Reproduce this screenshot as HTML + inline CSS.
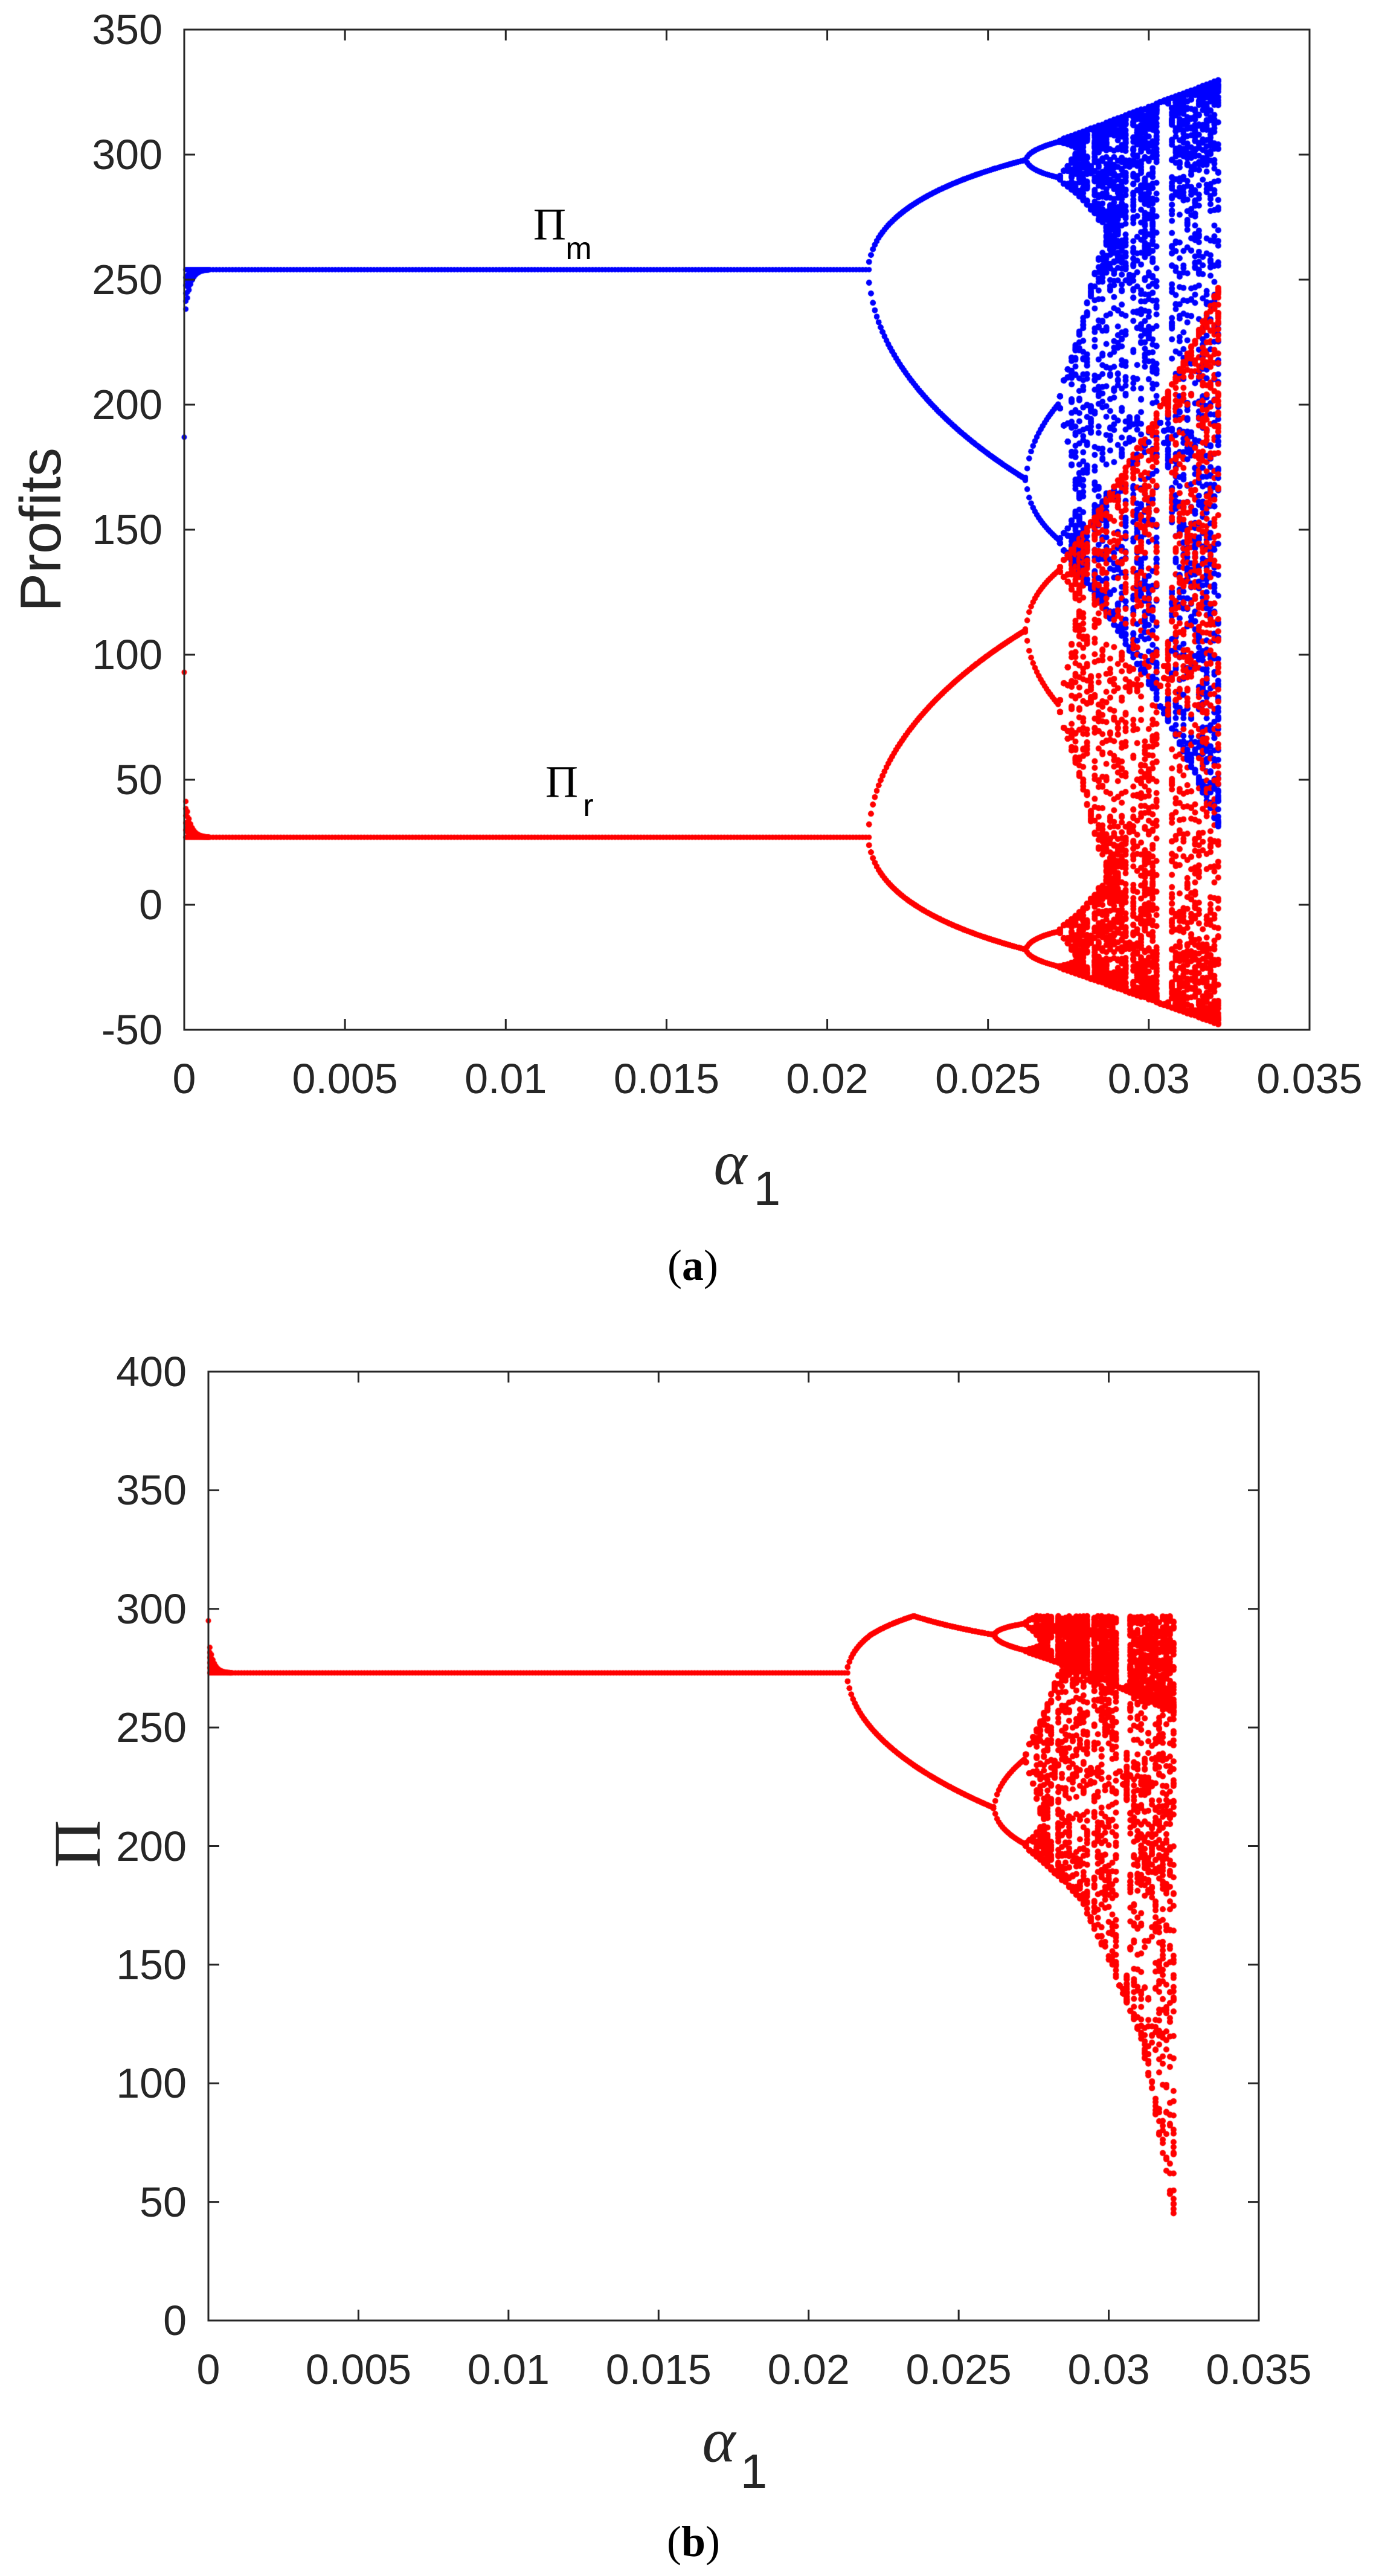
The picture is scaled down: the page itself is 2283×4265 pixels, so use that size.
<!DOCTYPE html>
<html><head><meta charset="utf-8">
<style>
html,body{margin:0;padding:0;background:#fff;}
#wrap{position:relative;width:2283px;height:4265px;overflow:hidden;background:#fff;}
canvas,svg{position:absolute;left:0;top:0;}
.t{position:absolute;font-family:"Liberation Sans",sans-serif;font-size:70px;color:#262626;line-height:1;white-space:nowrap;}
.s{position:absolute;font-family:"Liberation Serif",serif;color:#262626;line-height:1;white-space:nowrap;}
</style></head><body>
<div id="wrap">
<canvas id="c" width="2283" height="4265"></canvas>
<svg width="2283" height="4265" id="ax"></svg>
<div id="labels"></div>
<div class="t" style="left:68px;top:877px;font-size:96px;transform:translate(-50%,-50%) rotate(-90deg);">Profits</div>
<div class="s" style="left:1209px;top:1925px;font-size:105px;font-style:italic;transform:translate(-50%,-50%);">α</div>
<div class="t" style="left:1270px;top:1968px;font-size:80px;transform:translate(-50%,-50%);">1</div>
<div class="s" style="left:1147px;top:2095px;font-size:72px;transform:translate(-50%,-50%);color:#000;">(<b>a</b>)</div>
<div class="s" style="left:910px;top:372px;font-size:75px;transform:translate(-50%,-50%);color:#000;">Π</div>
<div class="t" style="left:958px;top:412px;font-size:52px;transform:translate(-50%,-50%);color:#000;">m</div>
<div class="s" style="left:930px;top:1295px;font-size:75px;transform:translate(-50%,-50%);color:#000;">Π</div>
<div class="t" style="left:974px;top:1334px;font-size:52px;transform:translate(-50%,-50%);color:#000;">r</div>
<div class="s" style="left:128px;top:3053px;font-size:110px;transform:translate(-50%,-50%) rotate(-90deg);">Π</div>
<div class="s" style="left:1190px;top:4040px;font-size:105px;font-style:italic;transform:translate(-50%,-50%);">α</div>
<div class="t" style="left:1248px;top:4092px;font-size:80px;transform:translate(-50%,-50%);">1</div>
<div class="s" style="left:1148px;top:4208px;font-size:72px;transform:translate(-50%,-50%);color:#000;">(<b>b</b>)</div>
</div>
<script>
(function(){
var P=[{L:305,R:2168,T:49,B:1705,ymin:-50,ymax:350,yt:[-50,0,50,100,150,200,250,300,350]},
       {L:345,R:2084,T:2271,B:3842,ymin:0,ymax:400,yt:[0,50,100,150,200,250,300,350,400]}];
var svg=document.getElementById('ax'),lab=document.getElementById('labels');
var s='';var h='';
P.forEach(function(p){
  s+='<rect x="'+p.L+'" y="'+p.T+'" width="'+(p.R-p.L)+'" height="'+(p.B-p.T)+'" fill="none" stroke="#262626" stroke-width="3"/>';
  for(var i=0;i<=7;i++){var v=i*0.005;var x=p.L+(p.R-p.L)*v/0.035;
    s+='<line x1="'+x+'" y1="'+p.B+'" x2="'+x+'" y2="'+(p.B-18)+'" stroke="#262626" stroke-width="3"/>';
    s+='<line x1="'+x+'" y1="'+p.T+'" x2="'+x+'" y2="'+(p.T+18)+'" stroke="#262626" stroke-width="3"/>';
    var txt=i==0?'0':(+v.toFixed(3)).toString();
    h+='<div class="t" style="left:'+x+'px;top:'+(p.B+81)+'px;transform:translate(-50%,-50%)">'+txt+'</div>';}
  p.yt.forEach(function(v){var y=p.B-(p.B-p.T)*(v-p.ymin)/(p.ymax-p.ymin);
    s+='<line x1="'+p.L+'" y1="'+y+'" x2="'+(p.L+18)+'" y2="'+y+'" stroke="#262626" stroke-width="3"/>';
    s+='<line x1="'+p.R+'" y1="'+y+'" x2="'+(p.R-18)+'" y2="'+y+'" stroke="#262626" stroke-width="3"/>';
    h+='<div class="t" style="right:'+(2283-p.L+36)+'px;top:'+y+'px;transform:translateY(-50%)">'+v+'</div>';});
});
svg.innerHTML=s;lab.innerHTML=h;
var c=document.getElementById('c').getContext('2d');
function X(p,a){return p.L+(p.R-p.L)*a/0.035;}
function Y(p,v){return p.B-(p.B-p.T)*(v-p.ymin)/(p.ymax-p.ymin);}
function interp(pts,x){for(var i=1;i<pts.length;i++){if(x<=pts[i][0]){var a=pts[i-1],b=pts[i];return a[1]+(b[1]-a[1])*(x-a[0])/(b[0]-a[0]);}}return pts[pts.length-1][1];}
var BL=[[0,30],[0.44,170],[0.667,254],[0.85,298],[1,330]];
var RD=[[0,248],[0.44,110],[0.667,27],[0.85,-18],[1,-48]];
var BD=[[0,297],[0.05,289],[0.133,273],[0.36,216],[0.55,178],[0.7,120],[0.8,42]];
function fb(x){return interp(BD,Math.abs(x-0.8));}
function dot(p,a,v,col,r){c.fillStyle=col;c.beginPath();c.arc(X(p,a),Y(p,v),r,0,6.2832);c.fill();}
var rad=4.5;
dot(P[0],0,187,'#00f',rad);dot(P[0],0,93,'#f00',rad);dot(P[1],0,295,'#f00',rad);
for(var a=0.00005;a<0.0008;a+=0.00005){
  var d=Math.exp(-a/0.00015);
  for(var k=0;k<6;k++){var f=d*(k/5);
    dot(P[0],a,254-22*f,'#00f',rad);dot(P[0],a,27+20*f,'#f00',rad);dot(P[1],a,273+15*f,'#f00',rad);}
}
for(var a=0.0008;a<0.0213;a+=0.0001){dot(P[0],a,254,'#00f',rad);dot(P[0],a,27,'#f00',rad);dot(P[1],a,273,'#f00',rad);}
var a=0.0213;
while(a<=0.03222){
  var r=3+(a-0.0213)/0.0109;if(r>4)r=4;
  var ch=a>=0.0272, N=ch?90:16, rr=ch?5:rad;
  var x=0.3;for(var i=0;i<250;i++)x=r*x*(1-x);
  for(var i=0;i<N;i++){x=r*x*(1-x);dot(P[0],a,interp(BL,x),'#00f',rr);}
  x=0.3;for(var i=0;i<250;i++)x=r*x*(1-x);
  for(var i=0;i<N;i++){x=r*x*(1-x);dot(P[0],a,interp(RD,x),'#f00',rr);dot(P[1],a,fb(x),'#f00',rr);}
  a+= (ch?0.00012:0.00006);
}
})();
</script>
</body></html>
